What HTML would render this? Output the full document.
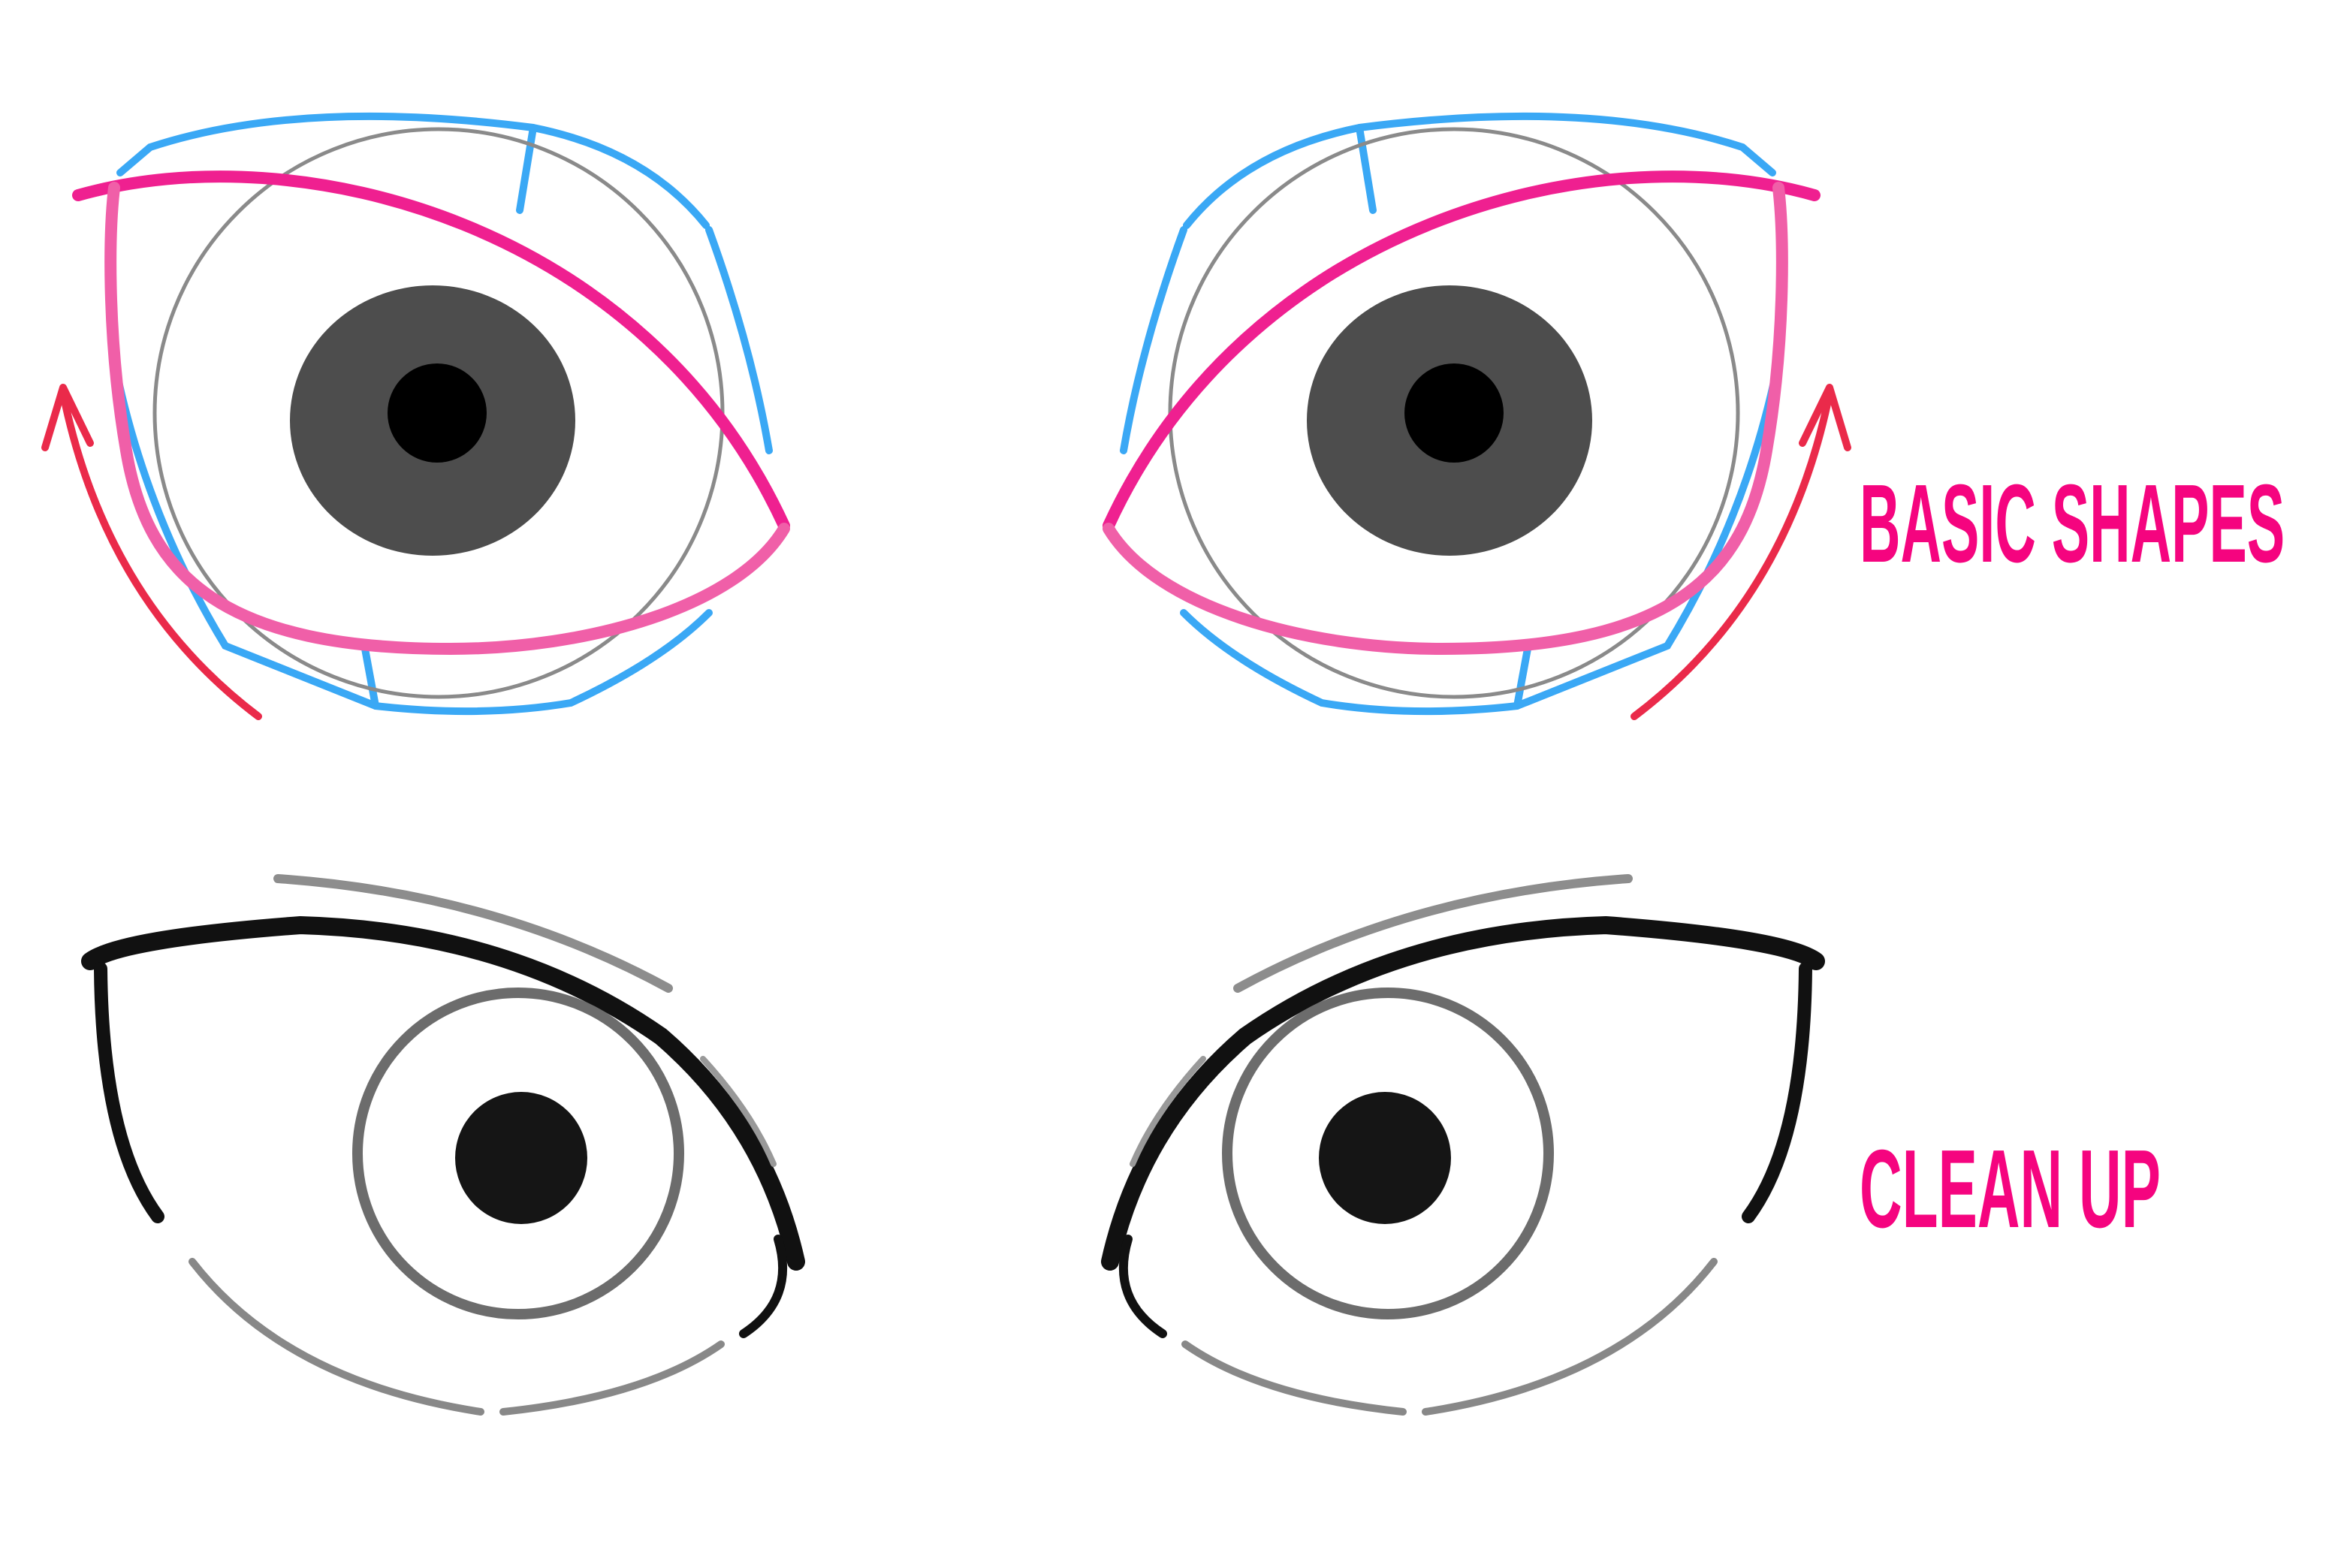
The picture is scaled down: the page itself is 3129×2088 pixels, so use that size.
<!DOCTYPE html>
<html><head><meta charset="utf-8"><style>
html,body{margin:0;padding:0;background:#fff;}
svg{display:block;}
</style></head><body>
<svg width="3129" height="2088" viewBox="0 0 1564.5 1044" xmlns="http://www.w3.org/2000/svg">
<rect width="1564.5" height="1044" fill="#fff"/>
<defs>
<g id="topeye">
  <g fill="none" stroke="#3aa8f5" stroke-width="5" stroke-linecap="round">
    <path d="M80,115 L100,98 Q200,65 355,85 Q430,100 470,150"/>
    <path d="M472,153 Q500,230 512,300"/>
    <path d="M75,235 Q95,340 150,430 L250,470 Q320,478 380,468 Q440,440 472,408"/>
    <path d="M355,85 L346,140"/>
    <path d="M243,432 L250,470"/>
  </g>
  <circle cx="292" cy="275" r="189" fill="none" stroke="#8a8a8a" stroke-width="2.5"/>
  <path d="M52,130 C200,88 430,150 522,350" fill="none" stroke="#ef2090" stroke-width="8" stroke-linecap="round"/>
  <path d="M522,352 C490,405 390,432 300,432 C150,432 98,385 84,300 C72,230 72,160 76,125" fill="none" stroke="#f05fa8" stroke-width="8" stroke-linecap="round"/>
  <path d="M172,477 Q70,400 42,262" fill="none" stroke="#ea2a4a" stroke-width="5" stroke-linecap="round"/>
  <path d="M30,298 L42,258 L60,295" fill="none" stroke="#ea2a4a" stroke-width="5" stroke-linecap="round" stroke-linejoin="round"/>
</g>
<g id="boteye" fill="none" stroke-linecap="round">
  <path d="M185,585 Q330,595 445,658" stroke="#8d8d8d" stroke-width="6"/>
  <path d="M60,640 Q80,625 200,616 Q340,620 440,690 Q510,750 530,840" stroke="#111" stroke-width="12"/>
  <path d="M67,645 Q68,760 105,810" stroke="#111" stroke-width="9"/>
  <path d="M128,840 Q190,920 320,940" stroke="#888" stroke-width="5"/>
  <path d="M335,940 Q430,930 480,895" stroke="#888" stroke-width="5"/>
  <path d="M518,825 Q530,865 495,888" stroke="#111" stroke-width="6"/>
  <path d="M468,705 Q500,740 515,775" stroke="#999" stroke-width="4"/>
  <circle cx="345" cy="768" r="107" stroke="#6c6c6c" stroke-width="7"/>
  <circle cx="347" cy="771" r="44" fill="#151515" stroke="none"/>
</g>
</defs>
<use href="#topeye"/>
<use href="#topeye" transform="translate(1260,0) scale(-1,1)"/>
<ellipse cx="288" cy="280" rx="95" ry="90" fill="#4d4d4d"/>
<circle cx="291" cy="275" r="33" fill="#000"/>
<ellipse cx="965" cy="280" rx="95" ry="90" fill="#4d4d4d"/>
<circle cx="968" cy="275" r="33" fill="#000"/>
<use href="#boteye"/>
<use href="#boteye" transform="translate(1269,0) scale(-1,1)"/>
<g font-family="'Liberation Sans',sans-serif" font-weight="bold" fill="#f5047f" font-size="74">
<text transform="translate(1238,374) scale(0.51,1)">BASIC SHAPES</text>
<text transform="translate(1238,817) scale(0.53,1)">CLEAN UP</text>
</g>
</svg>
</body></html>
